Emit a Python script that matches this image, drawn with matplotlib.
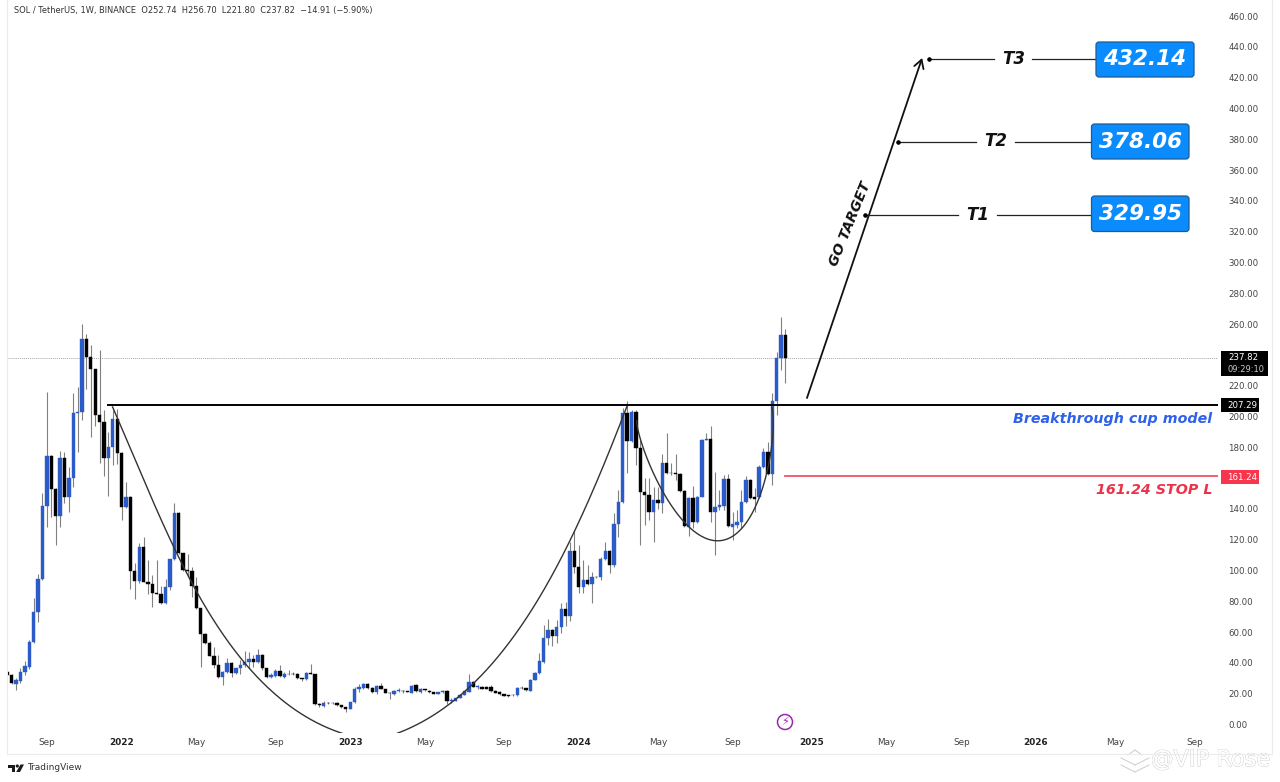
import matplotlib

matplotlib.use("Agg")
import matplotlib.patheffects as pe
import matplotlib.pyplot as plt
import numpy as np
from matplotlib.patches import Circle, FancyBboxPatch, Polygon, Rectangle
from matplotlib.transforms import Affine2D

# weekly candles, SOL / USDT
opens = [
    34.0, 32.1, 26.5, 28.4, 34, 37.5, 53.8, 73.3, 94.3, 142.1,
    174.4, 153, 135.6, 173.3, 148, 160.3, 202.5, 203.2, 250.1, 238.9,
    230.7, 200.8, 196.7, 172.9, 180, 198.2, 176.5, 141, 148, 99.9,
    93.4, 115, 92.8, 91, 85.6, 84.7, 78.7, 89, 107.3, 137.1,
    111.2, 100.3, 99.7, 89.7, 75.4, 58.8, 52.7, 44.7, 38.6, 30.6,
    34.3, 39.7, 33.2, 36.5, 38.6, 40.8, 42.5, 40.8, 45.1, 36.5,
    30.6, 31.7, 34.9, 31, 32.9, 33, 33, 30, 29.3, 33.2,
    32.8, 13.3, 12, 14.2, 13.9, 14.2, 12.6, 11.1, 10, 14.4,
    22.8, 23.5, 26.3, 23.5, 20.9, 25, 23, 20.7, 19.8, 21.5,
    21.9, 21.6, 20.4, 25.4, 21.3, 22.8, 22, 21, 19.8, 21,
    22, 15.5, 15.5, 17.2, 19.4, 21.3, 27.8, 24.6, 24.6, 24.6,
    24.6, 22, 21.3, 19.8, 19, 18.9, 19.2, 24, 23.5, 21.8,
    28.9, 33.2, 40.8, 56.4, 61.4, 57.7, 63, 74.8, 70.7, 112.7,
    102, 89.5, 93.8, 91, 95.6, 95.6, 107.7, 112.8, 103.6, 130.2,
    144.3, 202.1, 184.1, 202.7, 179.8, 151.2, 149, 138.2, 145.8, 143.6,
    170, 163.1, 163.1, 162.5, 151.6, 128.5, 146.9, 131.7, 148, 184.8,
    185.2, 138.2, 141.5, 142.1, 159.2, 128.5, 129.6, 131.3, 144.3, 158.8,
    147.5, 147.5, 167.4, 176.8, 162.7, 210.3, 237.8, 252.74,
]
highs = [
    34.4, 33, 30, 37, 41, 55, 82, 98, 150.6, 216.2,
    175, 153.5, 177.8, 177.2, 167.4, 215.5, 219, 260, 253.6, 246.5,
    231, 243.2, 204.2, 190.2, 204, 204.7, 177, 157.7, 148.5, 104.7,
    117.6, 122, 106.8, 97, 106.8, 90, 94.3, 107.5, 143.6, 138.2,
    111.5, 111, 102.5, 96, 75.8, 59.2, 54.4, 50, 45.1, 34.5,
    43, 40.8, 36.8, 41.9, 48, 47.3, 45, 48.8, 45.5, 36.8,
    33.2, 35.8, 38.6, 34.3, 35.4, 34.3, 33.7, 30.3, 34.3, 39.3,
    33, 13.7, 15.5, 14.5, 14.4, 14.8, 12.8, 11.3, 14.8, 24.6,
    26.3, 27, 26.7, 24.6, 25.6, 27, 23.3, 21, 22.4, 24,
    22.7, 21.8, 25.6, 26, 24, 23, 22.2, 21.2, 21.3, 22.4,
    22.4, 17, 17.5, 19.6, 21.8, 32.8, 28.4, 25.6, 25, 25,
    25.6, 22.3, 21.5, 20, 19.2, 19.8, 24.6, 24.9, 23.8, 29.3,
    33.9, 46.6, 64.6, 68.3, 61.8, 67.9, 78.7, 79.8, 118.7, 126.3,
    116.6, 106.8, 103.6, 99, 96.4, 109, 118.7, 113.2, 137.1, 152.3,
    205.8, 210.3, 204, 204, 184.8, 160, 159.9, 154.5, 154, 175.7,
    189.1, 170, 175.7, 163.1, 152, 148, 154.9, 148.5, 185.2, 189.1,
    194, 163.8, 152, 162, 162.7, 138.2, 139.3, 152.3, 161.6, 159.2,
    153.4, 168.5, 179.4, 183.7, 215, 242, 264.9, 256.7,
]
lows = [
    31.5, 26, 22.5, 27, 32, 36, 53, 66.8, 94, 128.5,
    135, 116.6, 128.5, 143.6, 138.2, 154, 177.2, 197.8, 217.7, 186.5,
    193.9, 169.6, 161.6, 148.6, 168.5, 169, 132.8, 140.5, 87.8, 81.3,
    91.7, 92.5, 85, 76, 84.5, 78.5, 78.2, 87.3, 106.8, 110.8,
    99.5, 96, 82.6, 75, 37.5, 52.5, 44.5, 36.5, 30.4, 25.6,
    33.7, 31, 32.8, 32.8, 37.5, 36.5, 37.5, 39.7, 35.4, 30.4,
    30, 31, 30.6, 30.4, 31.9, 32, 29.5, 28.4, 28.9, 32.5,
    12.7, 11.6, 11.2, 13.5, 13.4, 12, 10.7, 8.3, 9.8, 14.2,
    21.3, 22.8, 23, 20.2, 19.8, 23, 20.2, 16.3, 19.1, 21,
    20.3, 20.9, 20.2, 21.3, 20.6, 21.8, 20.5, 19.5, 19.5, 20.7,
    13.3, 14.2, 15.2, 17, 19.2, 21.2, 24.2, 22.9, 23, 23,
    21.1, 20.3, 19.4, 18.2, 18, 18.3, 18.7, 23, 21.9, 21.5,
    28.7, 32.8, 40, 51.6, 50.9, 52.7, 59.2, 64, 67.4, 98.2,
    85.2, 85.2, 90.5, 79, 94.9, 93.8, 107, 98.6, 102.5, 122,
    143.6, 163.1, 183.5, 168.5, 116.6, 129.6, 132.8, 118.7, 140, 137.6,
    162.8, 162, 158.8, 151.2, 128.5, 122.4, 127.4, 130.6, 147.5, 184.5,
    131.7, 110, 139, 139.3, 128.5, 120, 127.4, 127.4, 144, 146.2,
    138.2, 146.9, 166.3, 162, 155.5, 201, 230.2, 221.8,
]
closes = [
    32.1, 26.7, 28.9, 34.1, 38, 53.8, 72.8, 94.3, 142.1, 174.4,
    153, 135.6, 173.3, 148, 160.3, 202.5, 203.2, 250.1, 238.9, 230.7,
    200.8, 196.7, 172.9, 180, 198.2, 176.5, 141, 148, 99.9, 93.4,
    115, 92.8, 91, 85.6, 84.7, 78.7, 89, 107.3, 137.1, 111.2,
    100.3, 99.7, 89.7, 75.4, 58.8, 52.7, 44.7, 38.6, 30.6, 34.3,
    39.7, 33.2, 36.5, 38.6, 40.8, 42.5, 40.8, 45.1, 36.5, 30.6,
    32.1, 34.9, 31.5, 32.6, 33, 32.6, 30, 29.3, 33.2, 32.8,
    13.3, 12.4, 14.2, 13.9, 14, 12.6, 11.1, 9.9, 14.4, 23,
    24.1, 26.3, 23.5, 21.3, 25.2, 23, 20.7, 20.3, 22, 22.3,
    21.7, 21.2, 25.2, 21.8, 22.8, 22.4, 21, 19.8, 21, 22,
    15.5, 15.9, 17.2, 19.4, 21.5, 27.8, 24.6, 24.8, 23.3, 23.3,
    21.8, 20.7, 19.8, 18.5, 18.3, 19.1, 23.9, 23.5, 22.2, 28.9,
    33.2, 41.2, 56.4, 61.4, 57.7, 63, 74.8, 70.7, 112.7, 102,
    89.5, 93.8, 91, 96, 96, 107.7, 112.8, 103.6, 130.2, 144.3,
    202.1, 184.1, 202.7, 179.8, 151.2, 149, 138.2, 145.8, 143.6, 170,
    163.1, 163.6, 162.5, 151.6, 128.9, 146.9, 131.7, 148, 184.8, 185.2,
    138.2, 141.5, 142.5, 159.2, 128.9, 130, 131.7, 144.7, 158.8, 146.9,
    146.4, 167.4, 176.8, 162.7, 210.3, 237.8, 252.74, 237.82,
]

# 160 and 240 sit under the price tags
price_ticks = [v for v in range(0, 461, 20) if v not in (160, 240)]
time_ticks = [9, 26, 43, 61, 78, 95, 113, 130, 148, 165, 183, 200, 217, 234, 252, 270]
time_labels = ["Sep", "2022", "May", "Sep", "2023", "May", "Sep", "2024", "May", "Sep",
               "2025", "May", "Sep", "2026", "May", "Sep"]

# cup drawings, (week, price)
cup_left = [(24.0, 206.2), (28.6, 173.7), (34.1, 141.2), (37.7, 114.6), (43.2, 85.4),
            (46.8, 69.2), (54.5, 37.4), (62.0, 18.0), (69.5, 1.6), (73.9, -2.9), (77, -6.5)]
cup_right = [(88, -6.5), (89.8, -4.2), (98.4, 8.1), (105.9, 26.9), (113.7, 51.6), (121.2, 82.8),
             (128.7, 124.4), (132.6, 147.1), (136.4, 173.7), (139.8, 199), (141, 206.2)]
cup_small = [(142.8, 199), (144, 186.7), (149, 157.5), (153.7, 131.5), (157.6, 121.1),
             (161.7, 115.9), (166, 119.8), (169.6, 139.3), (172.8, 176.3), (174.2, 206.2)]

last_price = 237.82
neck_price = 207.29
stop_price = 161.24

BLUE = "#2b5bc8"
W, H = 1280, 782


def smooth(points, deg=4):
    # the cups are hand drawn, fit x and y along the chord length
    p = np.array(points, dtype=float)
    scaled = p * [4.396, 1.54]
    t = np.r_[0, np.cumsum(np.hypot(*np.diff(scaled, axis=0).T))]
    tt = np.linspace(0, t[-1], 200)
    return np.polyval(np.polyfit(t, p[:, 0], deg), tt), np.polyval(np.polyfit(t, p[:, 1], deg), tt)


plt.rcParams["font.family"] = ["DejaVu Sans"]
fig = plt.figure(figsize=(W / 100, H / 100), dpi=100)
ax = fig.add_axes([8 / W, (H - 733) / H, 1210 / W, 733 / H])
px = Affine2D().scale(1, -1).translate(0, H)  # picture pixels, y down

weeks = np.arange(len(closes))
o, h, l, c = map(np.array, (opens, highs, lows, closes))
colors = [BLUE if up else "#000000" for up in c >= o]

ax.vlines(weeks, l, h, color="#808080", lw=0.8, zorder=2)
ax.bar(weeks, np.abs(c - o), bottom=np.minimum(o, c), width=0.76, color=colors,
       edgecolor=colors, linewidth=0.3, zorder=3)

ax.set_xlim(0.16, 275.4)
ax.set_ylim(-5.52, 470.45)

ax.axhline(last_price, color="#a8a8a8", lw=0.7, ls=(0, (1, 1)), zorder=1)
ax.plot([22.9, 276], [neck_price, neck_price], color="#000000", lw=1.4, zorder=4)
ax.plot([177, 276], [stop_price, stop_price], color="#ef5566", lw=1.3, zorder=4)

for arc in (cup_left, cup_right, cup_small):
    xs, ys = smooth(arc)
    ax.plot(xs, ys, color="#333333", lw=1.0, zorder=5)

ax.annotate("", xy=(208.1, 432.8), xytext=(181.9, 212),
            arrowprops=dict(arrowstyle="->,head_length=0.6,head_width=0.35", color="#111111", lw=1.3,
                            shrinkA=0, shrinkB=0))

ax.yaxis.tick_right()
ax.set_yticks(price_ticks, [f"{v:.2f}" for v in price_ticks])
ax.set_xticks(time_ticks, time_labels)
ax.tick_params(axis="y", length=0, pad=7.5, labelsize=6.2, labelcolor="#444444")
ax.tick_params(axis="x", length=0, pad=3.5, labelsize=6.4, labelcolor="#444444")
for lab in ax.get_xticklabels():
    if lab.get_text().isdigit():
        lab.set_fontweight("bold")
        lab.set_color("#222222")
for s in ax.spines.values():
    s.set_visible(False)

# frame around the chart
for xs, ys in [((7, 7), (0, 754)), ((7, 1272), (754, 754)), ((1272, 1272), (0, 754))]:
    fig.add_artist(plt.Line2D(xs, ys, color="#ececec", lw=0.8, transform=px))


def label(x, y, s, **kw):
    kw.setdefault("ha", "center")
    kw.setdefault("va", "center")
    return ax.text(x, y, s, transform=px, clip_on=False, zorder=12, **kw)


def segment(x0, y0, x1, y1, **kw):
    ax.plot([x0, x1], [y0, y1], transform=px, clip_on=False, zorder=6, **kw)


label(14, 10, "SOL / TetherUS, 1W, BINANCE  O252.74  H256.70  L221.80  C237.82  −14.91 (−5.90%)",
      ha="left", fontsize=5.95, color="#333333")

# targets
targets = [("T3", "432.14", 929, 1014, 994, 1032, 1096, 1194, 42, 77, 59),
           ("T2", "378.06", 898, 996, 976, 1015, 1091.5, 1189, 124, 159, 141.5),
           ("T1", "329.95", 865, 978, 958, 997, 1091.5, 1189, 196, 231.5, 214.5)]
for name, value, x0, xt, x1, x2, bx0, bx1, by0, by1, yc in targets:
    segment(x0, yc, x1, yc, color="#222222", lw=0.9)
    segment(x2, yc, bx0, yc, color="#222222", lw=0.9)
    segment(x0, yc, x0, yc, color="#000000", marker="o", ms=2)
    label(xt, yc, name, fontsize=12, fontweight="bold", fontstyle="italic", color="#111111")
    ax.add_patch(FancyBboxPatch((bx0 + 2, by0 + 2), bx1 - bx0 - 4, by1 - by0 - 4, boxstyle="round,pad=2,rounding_size=3",
                                fc="#0a8cff", ec="#1d5c94", lw=0.9, transform=px, clip_on=False, zorder=11))
    label((bx0 + bx1) / 2, yc, value, fontsize=15.5, fontweight="bold", fontstyle="italic", color="#ffffff")

label(850, 224, "GO TARGET", fontsize=10.2, fontstyle="italic", fontweight="bold", rotation=68, color="#111111",
      rotation_mode="anchor")
label(1212, 419, "Breakthrough cup model", ha="right", fontsize=10.3, fontstyle="italic", fontweight="bold",
      color="#2f62e8")
label(1212, 490, "161.24 STOP L", ha="right", fontsize=10.3, fontstyle="italic", fontweight="bold",
      color="#ec3248")

# price tags on the axis
ax.add_patch(Rectangle((1221, 351), 47, 25, fc="#000000", transform=px, clip_on=False, zorder=11))
label(1228, 358, "237.82", ha="left", fontsize=6.2, color="#ffffff")
label(1228, 369.5, "09:29:10", ha="left", fontsize=6.0, color="#c8c8c8")
ax.add_patch(Rectangle((1221, 398), 38, 14, fc="#000000", transform=px, clip_on=False, zorder=11))
label(1242, 405.3, "207.29", fontsize=6.2, color="#ffffff")
ax.add_patch(Rectangle((1221, 470), 38, 14, fc="#f7364e", transform=px, clip_on=False, zorder=11))
label(1242, 477, "161.24", fontsize=6.2, color="#ffffff")

# lightning badge
ax.add_patch(Circle((785, 722), 7.5, fc="#ffffff", ec="#9c27b0", lw=1.1, transform=px, clip_on=False, zorder=11))
label(785, 722, "\u26a1", fontsize=8, color="#9c27b0")

# TradingView logo
logo = "#1a1a1a"
ax.add_patch(Rectangle((8, 764.5), 7, 3, fc=logo, transform=px, clip_on=False, zorder=11))
ax.add_patch(Rectangle((11.5, 764.5), 3.5, 7.5, fc=logo, transform=px, clip_on=False, zorder=11))
ax.add_patch(Circle((17.3, 766), 1.6, fc=logo, transform=px, clip_on=False, zorder=11))
ax.add_patch(Polygon([(20.5, 764.5), (24, 764.5), (20, 772), (16.2, 772)], fc=logo, transform=px, clip_on=False,
                     zorder=11))
label(27, 768, "TradingView", ha="left", fontsize=6.5, color="#333333")

# watermark
wm = "#c4c4c4"
label(1151, 760, "@VIP Rose", ha="left", fontsize=16.2, color="#ffffff",
      path_effects=[pe.withStroke(linewidth=0.7, foreground=wm), pe.Normal()])
for dy in (0, 7):
    segment(1121, 758 + dy, 1135, 765 + dy, color="#cccccc", lw=0.7)
    segment(1135, 765 + dy, 1149, 758 + dy, color="#cccccc", lw=0.7)
segment(1128, 755, 1135, 750, color="#cccccc", lw=0.7)
segment(1135, 750, 1142, 755, color="#cccccc", lw=0.7)

fig.savefig("out.png", dpi=100, facecolor="white")
